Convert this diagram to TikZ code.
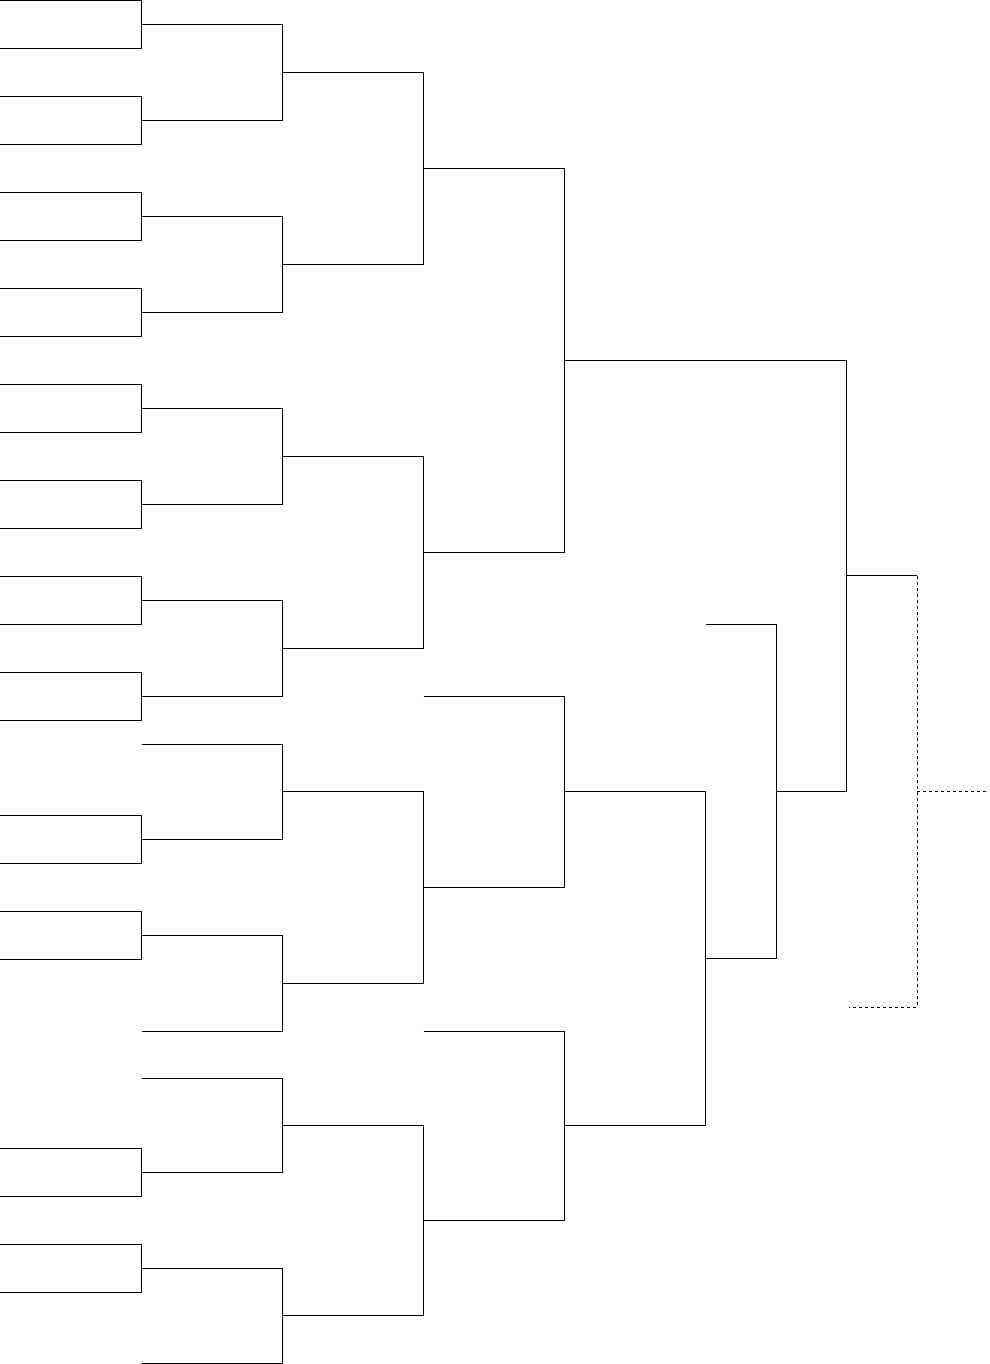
\documentclass[tikz,border=0pt]{standalone}
\usetikzlibrary{calc}
\tikzset{
  team/.style={draw, line width=1pt, inner sep=0pt, minimum width=150pt, minimum height=48pt, anchor=east},
  link/.style={line width=1pt},
  tbd/.style={link, dashed},
}
\begin{document}
\begin{tikzpicture}[x=1pt,y=-1pt]
  \path[use as bounding box, clip] (0,0) rectangle (989,1364);
  % columns
  \foreach \n/\x in {A/282.5, B/423.5, C/564.5, D/705.5, E/776.5, F/846.5, G/917, H/989}
    \coordinate (col\n) at (\x,0);
  % first round slots
  \foreach \i in {1,...,8}
    \node[team] (t\i) at (141.5,{24.5+96*(\i-1)}) {};
  \node[team] (t10) at (141.5,839) {};
  \node[team] (t11) at (141.5,935) {};
  \node[team] (t14) at (141.5,1172) {};
  \node[team] (t15) at (141.5,1268) {};
  \foreach \i in {1,2,3,4,5,6,7,8,10,11,14,15}
    \coordinate (p\i) at (t\i.east);
  \coordinate (p9) at (141.5,744);
  \coordinate (p12) at (141.5,1031);
  \coordinate (p13) at (141.5,1078);
  \coordinate (p16) at (141.5,1363);
  % byes
  \coordinate (b1) at (423.5,696);
  \coordinate (b2) at (423.5,1031);
  \coordinate (b3) at (705.5,624);
  % brackets
  \foreach \a/\b/\w/\c in {p1/p2/w1/A, p3/p4/w2/A, p5/p6/w3/A, p7/p8/w4/A,
      p9/p10/w5/A, p11/p12/w6/A, p13/p14/w7/A, p15/p16/w8/A,
      w1/w2/v1/B, w3/w4/v2/B, w5/w6/v3/B, w7/w8/v4/B,
      v1/v2/u1/C, b1/v3/u2/C, b2/v4/u3/C,
      u2/u3/q1/D, b3/q1/r1/E, u1/r1/f/F}{
    \coordinate (m) at ($(\a)!.5!(\b)$);
    \coordinate (\w) at (m -| col\c);
    \draw[link] (\a) -| (\w) |- (\b);
  }
  % final
  \coordinate (champ) at (f -| colG);
  \coordinate (d) at (849,1007);
  \draw[link] (f) -- (champ);
  \draw[tbd] (champ) |- (d);
  \coordinate (m) at ($(champ)!.5!(d)$);
  \coordinate (z) at (m -| colG);
  \coordinate (out) at (m -| colH);
  \draw[tbd] (z) -- (out);
\end{tikzpicture}
\end{document}
